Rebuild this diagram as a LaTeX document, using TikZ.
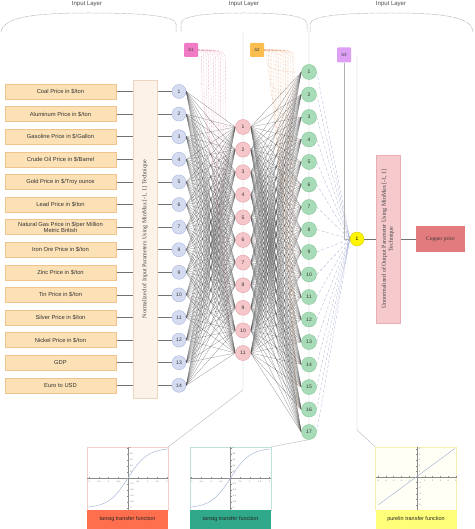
\documentclass[tikz,border=0pt]{standalone}
\usepackage{fontspec}
\setmainfont{Liberation Sans}
\newfontfamily\serifx{Liberation Serif}
\usetikzlibrary{calc,backgrounds}
\definecolor{inboxc}{HTML}{FCE1B6}
\definecolor{inboxd}{HTML}{F0C48C}
\definecolor{normc}{HTML}{FDF2E8}
\definecolor{normd}{HTML}{EBD5C0}
\definecolor{bluec}{HTML}{D5DCF2}
\definecolor{blued}{HTML}{A9B5DD}
\definecolor{pinkc}{HTML}{F5C6CA}
\definecolor{pinkd}{HTML}{E3A2A8}
\definecolor{greenc}{HTML}{A8DCB8}
\definecolor{greend}{HTML}{84C79A}
\definecolor{yelc}{HTML}{FFF500}
\definecolor{yeld}{HTML}{D8CC00}
\definecolor{bonec}{HTML}{F07AC4}
\definecolor{btwoc}{HTML}{F9BE4E}
\definecolor{bthreec}{HTML}{DDA0F5}
\definecolor{unnc}{HTML}{F6C9CD}
\definecolor{unnd}{HTML}{E8AEB4}
\definecolor{copc}{HTML}{E27B7D}
\definecolor{labone}{HTML}{FF6F4E}
\definecolor{labtwo}{HTML}{2FA98A}
\definecolor{labthree}{HTML}{FFFF7A}
\definecolor{frone}{HTML}{F6CFC8}
\definecolor{frtwo}{HTML}{BFE3D8}
\definecolor{frthree}{HTML}{F6F0B0}
\definecolor{bonel}{HTML}{D9789F}
\definecolor{btwol}{HTML}{E8A070}
\begin{document}
\begin{tikzpicture}[x=1pt,y=-1pt,
  inbox/.style={draw=inboxd, fill=inboxc, minimum width=111pt, minimum height=15pt, inner sep=1pt, font=\fontsize{5.8}{6.2}\selectfont, align=center, text=black!80},
  normbox/.style={draw=normd, fill=normc, minimum width=24pt, minimum height=318pt, inner sep=0pt},
  innode/.style={circle, draw=blued, fill=bluec, minimum size=14pt, inner sep=0pt, font=\fontsize{5}{5}\selectfont, text=black!80},
  hidnode/.style={circle, draw=pinkd, fill=pinkc, minimum size=15pt, inner sep=0pt, font=\fontsize{5}{5}\selectfont, text=black!80},
  grnode/.style={circle, draw=greend, fill=greenc, minimum size=15pt, inner sep=0pt, font=\fontsize{5}{5}\selectfont, text=black!80},
  outnode/.style={circle, draw=yeld, fill=yelc, minimum size=14pt, inner sep=0pt, font=\fontsize{5}{5}\selectfont},
  biasbox/.style={rounded corners=1pt, minimum width=14pt, minimum height=14pt, inner sep=0pt, font=\fontsize{4.5}{5}\selectfont, text=black!75},
  link/.style={draw=black!55, line width=0.5pt},
  mesh/.style={draw=black!70, line width=0.22pt, opacity=0.7},
  outmesh/.style={draw={rgb,255:red,120;green,130;blue,190}, line width=0.25pt, densely dashed, opacity=0.7},
  guide/.style={draw=black!25, line width=0.45pt},
  brace/.style={draw=black!25, line width=0.5pt, dash pattern=on 6pt off 1pt},
  layertxt/.style={font=\fontsize{6}{6}\selectfont, text=black!70},
  plotframe/.style={minimum width=81pt, minimum height=63pt, inner sep=0pt, fill=white, line width=0.5pt},
  plotlab/.style={minimum width=81pt, minimum height=19pt, inner sep=0pt, font=\fontsize{5.5}{6}\selectfont, text=black!85},
  axisline/.style={draw=black!45, line width=0.35pt},
  ticklab/.style={font=\fontsize{2}{2}\selectfont, text=black!60, inner sep=0.3pt},
  curve/.style={draw={rgb,255:red,170;green,185;blue,215}, line width=0.5pt},
  biasone/.style={draw=bonel, line width=0.35pt, densely dotted},
  biastwo/.style={draw=btwol, line width=0.35pt, densely dotted}
]
\begin{scope}[on background layer]
  \fill[white] (0,0) rectangle (474,529);
\end{scope}
\useasboundingbox (0,0) rectangle (474,529);

% layer titles and braces
\node[layertxt] (L1) at (87,4) {Input Layer};
\node[layertxt] (L2) at (244,4) {Input Layer};
\node[layertxt] (L3) at (391,4) {Input Layer};
\draw[brace] (1,32) .. controls (3,16) and (40,13) .. (88,13) .. controls (136,13) and (176,15) .. (176,24) -- (176,32);
\draw[brace] (181,32) -- (181,24) .. controls (181,15) and (210,13) .. (244,13) .. controls (278,13) and (307,15) .. (307,24) -- (307,32);
\draw[brace] (310,32) -- (310,24) .. controls (310,15) and (350,13) .. (391,13) .. controls (440,13) and (472,16) .. (473,32);

% input boxes
\foreach \t [count=\i] in {Coal Price in \$/ton, Aluminum Price in \$/ton, Gasoline Price in \$/Gallon, Crude Oil Price in \$/Barrel, Gold Price in \$/Troy ounce, Lead Price in \$/ton, {Natural Gas Price in \$/per Million\\Metric British}, Iron Ore Price in \$/ton, Zinc Price in \$/ton, Tin Price in \$/ton, Silver Price in \$/ton, Nickel Price in \$/ton, GDP, Euro to USD}
  \node[inbox] (t\i) at (60.5,{91.5+22.6*(\i-1)}) {\t};

% normalization box
\node[normbox] (norm) at (145,239) {};
\node[rotate=90, font=\serifx\fontsize{6}{6}\selectfont, text=black!75] (normtxt) at (norm.center) {Normalized of Input Parameters Using MinMax [-1, 1] Technique};

% neurons
\foreach \i in {1,...,14}
  \node[innode] (in\i) at (179,{91.5+22.6*(\i-1)}) {\i};
\foreach \j in {1,...,11}
  \node[hidnode] (h\j) at (243,{127+22.6*(\j-1)}) {\j};
\foreach \k in {1,...,17}
  \node[grnode] (g\k) at (309,{72+22.5*(\k-1)}) {\k};
\node[outnode] (y1) at (357,239) {1};

\node[biasbox, fill=bonec] (b1) at (191,50) {b1};
\node[biasbox, fill=btwoc] (b2) at (257,50) {b2};
\node[biasbox, fill=bthreec, minimum height=15pt] (b3) at (344,55) {b3};

% output side
\node[draw=unnd, fill=unnc, minimum width=24pt, minimum height=168pt, inner sep=0pt] (unn) at (388,239) {};
\node[rotate=90, align=center, font=\serifx\fontsize{6}{7}\selectfont, text=black!75] (unntxt) at (unn.center) {Unnormalized of Output Parameter Using MinMax [-1, 1]\\Technique};
\node[fill=copc, minimum width=49pt, minimum height=26pt, inner sep=0pt, font=\serifx\fontsize{5.5}{6}\selectfont, text=black!80] (cop) at (440.5,239) {Copper price};

% plots
\foreach \p/\xa/\xb/\ox/\fc/\lc in {1/87/168/128/frone/labone, 2/190/271/230.5/frtwo/labtwo} {
  \node[plotframe, draw=\fc] (plot\p) at ({(\xa+\xb)/2},478.5) {};
  \node[plotlab, fill=\lc] (lab\p) at ({(\xa+\xb)/2},519.5) {tansig transfer function};
  \draw[axisline] (\xa,478) -- (\xb,478);
  \draw[axisline] (\ox,447) -- (\ox,510);
  \foreach \t [count=\n] in {-2,-1.5,-1,-0.5,0.5,1,1.5,2} {
    \draw[axisline] ({\ox+19.5*\t},477) -- ({\ox+19.5*\t},479);
    \node[ticklab] (p\p x\n) at ({\ox+19.5*\t},481.5) {\t};
  }
  \foreach \t [count=\n] in {-1,-0.8,-0.6,-0.4,-0.2,0.2,0.4,0.6,0.8,1} {
    \draw[axisline] ({\ox-1},{478-30*\t}) -- ({\ox+1},{478-30*\t});
    \node[ticklab, anchor=west] (p\p y\n) at ({\ox+1.5},{478-30*\t}) {\t};
  }
  \node[ticklab, anchor=north west] (p\p o) at (\ox,478) {0};
  \draw[curve] plot[domain=-2.09:2.05, samples=60, smooth] ({\ox+19.5*\x},{478-30*tanh(\x)});
}
\node[plotframe, draw=frthree, fill={rgb,255:red,255;green,255;blue,246}] (plot3) at (416,478.5) {};
\node[plotlab, fill=labthree] (lab3) at (416,519.5) {purelin transfer function};
\draw[axisline] (376,477) -- (456,477);
\draw[axisline] (417,447) -- (417,510);
\foreach \t [count=\n] in {-5,-4,-3,-2,-1,1,2,3,4,5} {
  \draw[axisline] ({417+7.8*\t},476) -- ({417+7.8*\t},478);
  \node[ticklab] (p3x\n) at ({417+7.8*\t},480.5) {\t};
  \draw[axisline] (416,{477-5.6*\t}) -- (418,{477-5.6*\t});
  \node[ticklab, anchor=west] (p3y\n) at (418.5,{477-5.6*\t}) {\t};
}
\node[ticklab, anchor=north west] (p3o) at (417,477) {0};
\draw[curve] (378.5,{477+5.6*4.94}) -- (455,{477-5.6*5.1});

\coordinate (hb) at (243,390);
\coordinate (htop) at (243,32);
\coordinate (gtop) at (309,32);
\coordinate (ytop) at (357,57);
\coordinate (yb) at (357,430);

\begin{scope}[on background layer]
  % guide lines
  \draw[guide] (htop) -- (hb) -- (plot1.north east);
  \draw[guide] (gtop) -- (g17.south) -- (plot2.north east);
  \draw[guide] (ytop) -- (yb) -- (plot3.north west);
  % bias curves
  \foreach \j in {1,...,11}
    \draw[biasone] (b1.east) .. controls ({199+2.4*\j},50) .. ({199+2.4*\j},66)
      .. controls ({199+2.4*\j},{127+22.6*(\j-1)-8}) and ({203+2.4*\j},{127+22.6*(\j-1)}) .. (h\j.west);
  \foreach \k in {1,...,17}
    \draw[biastwo] (b2.east) .. controls ({265+1.7*\k},50) .. ({265+1.7*\k},60)
      .. controls ({265+1.7*\k},{72+22.5*(\k-1)-6}) and ({268+1.7*\k},{72+22.5*(\k-1)}) .. (g\k.west);
  % meshes
  \foreach \i in {1,...,14}
    \foreach \j in {1,...,11}
      \draw[mesh] (in\i.east) -- (h\j.west);
  \foreach \j in {1,...,11}
    \foreach \k in {1,...,17}
      \draw[mesh] (h\j.east) -- (g\k.west);
  \foreach \k in {1,...,17}
    \draw[outmesh] (g\k.east) -- (y1.west);
  \draw[draw=black!30, line width=0.5pt] (b3.south) |- (y1.west);
  % input links
  \foreach \i in {1,...,14} {
    \draw[link] (t\i.east) -- (t\i.east -| norm.west);
    \draw[link] (in\i.west -| norm.east) -- (in\i.west);
  }
  \draw[link] (y1.east) -- (unn.west);
  \draw[link] (unn.east) -- (cop.west);
\end{scope}
\end{tikzpicture}
\end{document}
